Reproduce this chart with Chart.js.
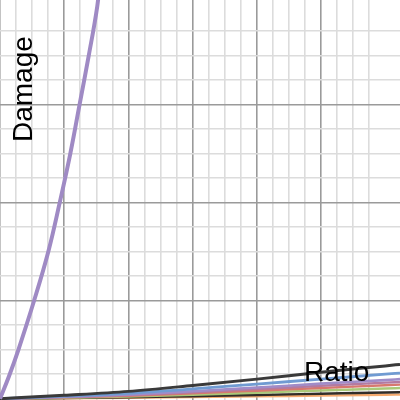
<!DOCTYPE html>
<html>
<head>
<meta charset="utf-8">
<script src="https://cdn.jsdelivr.net/npm/chart.js@4"></script>
<style>
html,body{margin:0;padding:0;background:#fff;}
#wrap{width:400px;height:400px;}
</style>
</head>
<body>
<div id="wrap"><canvas id="c" width="400" height="400"></canvas></div>
<script>
// Axis titles
const xTitle = "Ratio";
const yTitle = "Damage";

// Steep curve
const steepRatio  = [0, 0.140, 0.285, 0.534, 0.752, 0.931, 1.092, 1.240, 1.380, 1.514, 1.560];
const steepDamage = [0, 0.230, 0.497, 1.007, 1.500, 2.003, 2.490, 3.003, 3.493, 4.000, 4.300];

// Fan of shallow curves near the Ratio axis
const fanRatio = [0, 1, 2, 3, 4, 5, 6, 6.23];
const grayDamage   = [0, 0.035, 0.075, 0.135, 0.200, 0.270, 0.335, 0.350];
const blueDamage   = [0, 0.026, 0.056, 0.100, 0.150, 0.200, 0.250, 0.262];
const purpleDamage = [0, 0.020, 0.043, 0.077, 0.114, 0.154, 0.190, 0.200];
const mauveDamage  = [0, 0.017, 0.037, 0.066, 0.098, 0.132, 0.164, 0.171];
const redDamage    = [0, 0.014, 0.031, 0.055, 0.082, 0.110, 0.137, 0.144];
const greenDamage  = [0, 0.011, 0.023, 0.042, 0.062, 0.084, 0.104, 0.109];
const darkDamage   = [0, 0.007, 0.014, 0.026, 0.038, 0.051, 0.064, 0.067];
const orangeDamage = [0, 0.004, 0.009, 0.016, 0.024, 0.032, 0.040, 0.042];

const toPts = (xs, ys) => xs.map((x, i) => ({x: x, y: ys[i]}));

function fan(data, color, w) {
  return {data: toPts(fanRatio, data), borderColor: color, borderWidth: w,
          pointRadius: 0, cubicInterpolationMode: 'monotone', fill: false};
}

const datasets = [
  {data: toPts(steepRatio, steepDamage), borderColor: '#9f8ac4', borderWidth: 4,
   pointRadius: 0, tension: 0.4, fill: false},
  fan(grayDamage, '#3a3a3a', 3),
  fan(blueDamage, '#709bd2', 2.8),
  fan(purpleDamage, '#a08cc8', 2.6),
  fan(mauveDamage, '#b47aa0', 2.4),
  fan(redDamage, '#d7786e', 2.4),
  fan(greenDamage, '#aac878', 2.6),
  fan(darkDamage, '#322d28', 2.4),
  fan(orangeDamage, '#f5aa6e', 2.4)
];

const gridColor = ctx => {
  const v = ctx.tick ? ctx.tick.value : 0;
  return Math.abs(v - Math.round(v)) < 1e-6 ? '#9a9a9a' : '#dcdcdc';
};
const quarterTicks = scale => {
  scale.ticks = scale.ticks.filter(t => Math.abs(t.value * 4 - Math.round(t.value * 4)) < 1e-6);
};

const labelPlugin = {
  id: 'labels',
  afterDatasetsDraw(chart) {
    const c = chart.ctx;
    c.save();
    c.fillStyle = '#000';
    c.font = '28px "Liberation Sans", Arial, sans-serif';
    c.textBaseline = 'alphabetic';
    c.textAlign = 'left';
    c.fillText(xTitle, 304, 381);
    c.translate(32, 142);
    c.rotate(-Math.PI / 2);
    c.fillText(yTitle, 0, 0);
    c.restore();
  }
};

new Chart(document.getElementById('c'), {
  type: 'line',
  data: {datasets: datasets},
  plugins: [labelPlugin],
  options: {
    responsive: false,
    animation: false,
    devicePixelRatio: 1,
    layout: {padding: 0},
    plugins: {legend: {display: false}, tooltip: {enabled: false}},
    scales: {
      x: {
        type: 'linear', min: 0, max: 6.23,
        afterBuildTicks: quarterTicks,
        ticks: {display: false, stepSize: 0.25, autoSkip: false, padding: 0},
        grid: {color: gridColor, lineWidth: 1.6, drawTicks: false, tickLength: 0},
        border: {display: false}
      },
      y: {
        type: 'linear', min: -0.013, max: 4.068,
        afterBuildTicks: quarterTicks,
        ticks: {display: false, stepSize: 0.25, autoSkip: false, padding: 0},
        grid: {color: gridColor, lineWidth: 1.6, drawTicks: false, tickLength: 0},
        border: {display: false}
      }
    }
  }
});
</script>
</body>
</html>
